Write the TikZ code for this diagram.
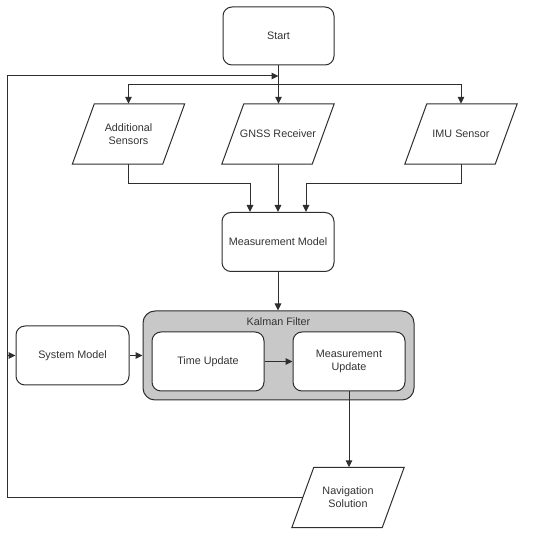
\documentclass[tikz,border=0pt]{standalone}
\usepackage{fontspec}
\setmainfont{Liberation Sans}
\usetikzlibrary{arrows.meta,calc}
\definecolor{ln}{HTML}{2E2E2E}
\definecolor{tx}{HTML}{333333}
\definecolor{kfill}{HTML}{C8C8C8}
\newcommand\parashape[1]{\draw[ln, line width=1pt] (#1.south west) -- ([xshift=-22pt]#1.south east) -- (#1.north east) -- ([xshift=22pt]#1.north west) -- cycle;}
\begin{document}
\begin{tikzpicture}[x=1pt,y=-1pt,
  every node/.style={font=\fontsize{10.8}{12.8}\selectfont, text=tx, align=center, inner sep=0pt},
  box/.style={draw=ln, line width=1pt, rounded corners=9pt, fill=white, minimum width=112pt, minimum height=59pt},
  para/.style={minimum width=112pt, minimum height=60pt},
  conn/.style={draw=ln, line width=1pt},
  arr/.style={conn, -{Triangle[length=7pt,width=6.5pt]}}
]
\useasboundingbox (0,0) rectangle (550,534);
% nodes
\node[box, minimum width=111pt, minimum height=58pt] (start) at (278.5,36) {Start};
\node[para] (addl) at (128.5,134) {Additional\\Sensors};
\node[para] (gnss) at (278,134) {GNSS Receiver};
\node[para] (imu) at (461,134) {IMU Sensor};
\node[box] (mm) at (278,242) {Measurement Model};
\node[draw=ln, line width=1pt, rounded corners=12pt, fill=kfill, minimum width=271pt, minimum height=89pt] (kf) at (278.5,355.5) {};
\node (kflabel) at (278.5,322) {Kalman Filter};
\node[box] (tu) at (208,361.5) {Time Update};
\node[box] (mu) at (349,361.5) {Measurement\\Update};
\node[box, minimum width=113pt] (sm) at (72.5,355.5) {System Model};
\node[para] (nav) at (348,497.5) {Navigation\\Solution};
\parashape{addl}
\parashape{gnss}
\parashape{imu}
\parashape{nav}
\coordinate (loopTop) at (7,76);
\coordinate (split) at (279,85);
\coordinate (navIn) at ([xshift=11pt]nav.west);
% connectors
\draw[arr] (start.south) -- (start.south |- gnss.north);
\draw[arr] (split) -| (addl.north);
\draw[arr] (split) -| (imu.north);
\draw[arr] (addl.south) -- ++(0,19) -| ([xshift=-28pt]mm.north);
\draw[arr] (gnss.south) -- (gnss.south |- mm.north);
\draw[arr] (imu.south) -- ++(0,19) -| ([xshift=28pt]mm.north);
\draw[arr] (mm.south) -- (mm.south |- kf.north);
\draw[arr] (sm.east) -- (kf.west |- sm.east);
\draw[arr] (tu.east) -- (mu.west |- tu.east);
\draw[arr] (mu.south) -- (mu.south |- nav.north);
\draw[conn] (navIn) -| (loopTop);
\draw[arr] (loopTop) -- (start.south |- loopTop);
\draw[arr] (loopTop |- sm.west) -- (sm.west);
\end{tikzpicture}
\end{document}
